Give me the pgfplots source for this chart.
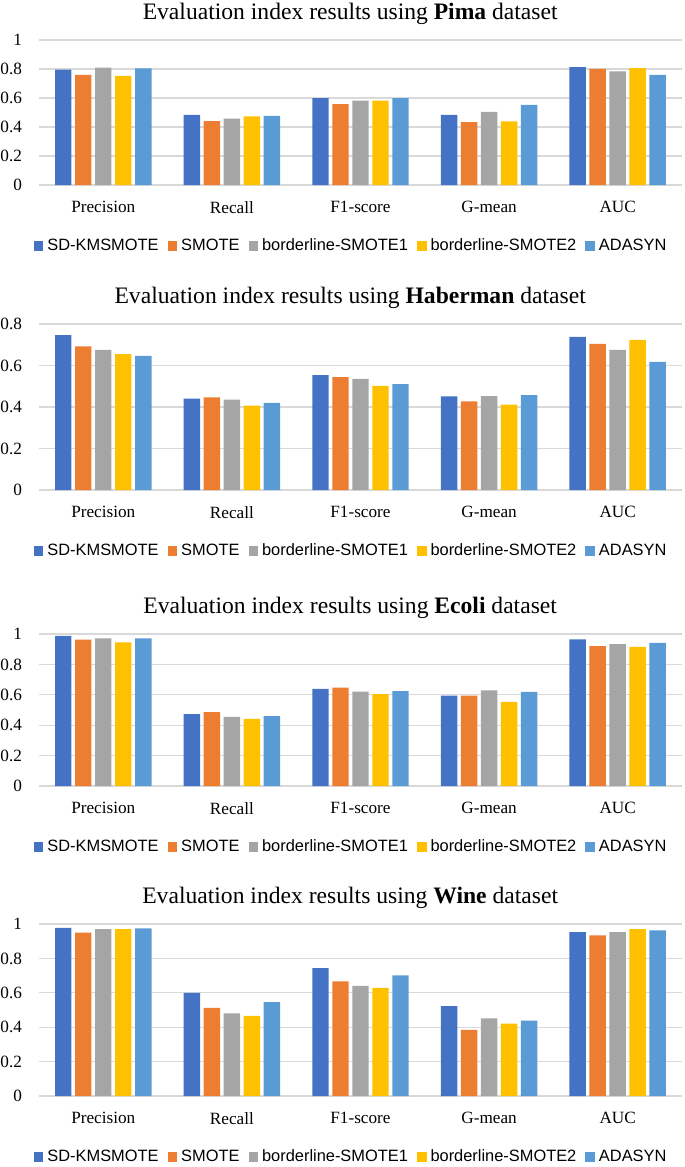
\documentclass[border=0pt]{standalone}
\usepackage{pgfplots}
\pgfplotsset{compat=1.18}
\usepackage{pgfplotstable}
\usepackage{fontspec}
\setmainfont{Liberation Serif}
\newfontfamily\arialfont{Liberation Sans}
\definecolor{cA}{HTML}{4472C4}
\definecolor{cB}{HTML}{ED7D31}
\definecolor{cC}{HTML}{A5A5A5}
\definecolor{cD}{HTML}{FFC000}
\definecolor{cE}{HTML}{5B9BD5}
\definecolor{gridc}{HTML}{D9D9D9}

\pgfplotstableread{
x sd smote bA bB ada
0 0.795 0.760 0.810 0.753 0.804
1 0.484 0.441 0.457 0.473 0.477
2 0.600 0.557 0.582 0.582 0.600
3 0.484 0.434 0.505 0.438 0.553
4 0.813 0.801 0.783 0.806 0.760
}\pima
\pgfplotstableread{
x sd smote bA bB ada
0 0.746 0.692 0.675 0.655 0.647
1 0.440 0.446 0.436 0.407 0.420
2 0.554 0.544 0.535 0.502 0.510
3 0.451 0.427 0.452 0.411 0.457
4 0.738 0.704 0.675 0.723 0.617
}\haberman
\pgfplotstableread{
x sd smote bA bB ada
0 0.987 0.963 0.972 0.945 0.972
1 0.473 0.486 0.455 0.442 0.460
2 0.639 0.648 0.621 0.604 0.624
3 0.595 0.595 0.630 0.554 0.619
4 0.965 0.921 0.934 0.915 0.941
}\ecoli
\pgfplotstableread{
x sd smote bA bB ada
0 0.977 0.950 0.971 0.971 0.975
1 0.600 0.513 0.480 0.466 0.546
2 0.744 0.666 0.641 0.629 0.701
3 0.522 0.384 0.452 0.421 0.439
4 0.953 0.934 0.953 0.971 0.963
}\wine

\pgfplotsset{
  panel/.style={
    scale only axis,
    width=321.5pt,
    ybar=1.8pt,
    bar width=8.2pt,
    xmin=-0.5, xmax=4.5,
    xtick={0,1,2,3,4},
    xticklabels={Precision,Recall,F1-score,G-mean,AUC},
    ymin=0,
    major tick length=0pt,
    axis line style={draw=none},
    ymajorgrids,
    grid style={color=gridc, line width=0.6pt},
    /pgf/number format/assume math mode=true,
    tick label style={font=\fontsize{8.6}{10}\selectfont},
    yticklabel style={xshift=-5pt},
    xticklabel style={yshift=-4.5pt},
    title style={at={(0.484,1)}, anchor=center, yshift=7pt, font=\fontsize{11.8}{13}\selectfont},
    legend style={at={(0.487,0)}, anchor=center, yshift=-30.5pt, draw=none, fill=none,
      legend columns=5, font=\arialfont\fontsize{8.2}{9.5}\selectfont,
      /tikz/every even column/.append style={column sep=2.5pt},
      inner sep=0pt},
    legend image code/.code={\path[##1] (0pt,-2.4pt) rectangle (4.8pt,2.4pt);},
    clip=false,
  },
}

\newcommand{\bars}[1]{%
  \addplot[fill=cA, draw=none] table[x=x, y=sd] {#1};
  \addplot[fill=cB, draw=none] table[x=x, y=smote] {#1};
  \addplot[fill=cC, draw=none] table[x=x, y=bA] {#1};
  \addplot[fill=cD, draw=none] table[x=x, y=bB] {#1};
  \addplot[fill=cE, draw=none] table[x=x, y=ada] {#1};
  \legend{SD-KMSMOTE,SMOTE,borderline-SMOTE1,borderline-SMOTE2,ADASYN}
}

\begin{document}
\begin{tikzpicture}
\path[use as bounding box] (0,0) rectangle (342.5pt,-583.5pt);

\begin{axis}[panel, at={(19.5pt,-92.5pt)}, anchor=south west, height=72.5pt,
  ymax=1, ytick={0,0.2,0.4,0.6,0.8,1},
  title={Evaluation index results using \textbf{Pima} dataset}]
\bars{\pima}
\end{axis}

\begin{axis}[panel, at={(19.5pt,-245pt)}, anchor=south west, height=83pt,
  ymax=0.8, ytick={0,0.2,0.4,0.6,0.8},
  title={Evaluation index results using \textbf{Haberman} dataset}]
\bars{\haberman}
\end{axis}

\begin{axis}[panel, at={(19.5pt,-393pt)}, anchor=south west, height=76pt,
  ymax=1, ytick={0,0.2,0.4,0.6,0.8,1},
  title={Evaluation index results using \textbf{Ecoli} dataset}]
\bars{\ecoli}
\end{axis}

\begin{axis}[panel, at={(19.5pt,-548pt)}, anchor=south west, height=86pt,
  ymax=1, ytick={0,0.2,0.4,0.6,0.8,1},
  title={Evaluation index results using \textbf{Wine} dataset}]
\bars{\wine}
\end{axis}
\end{tikzpicture}
\end{document}
